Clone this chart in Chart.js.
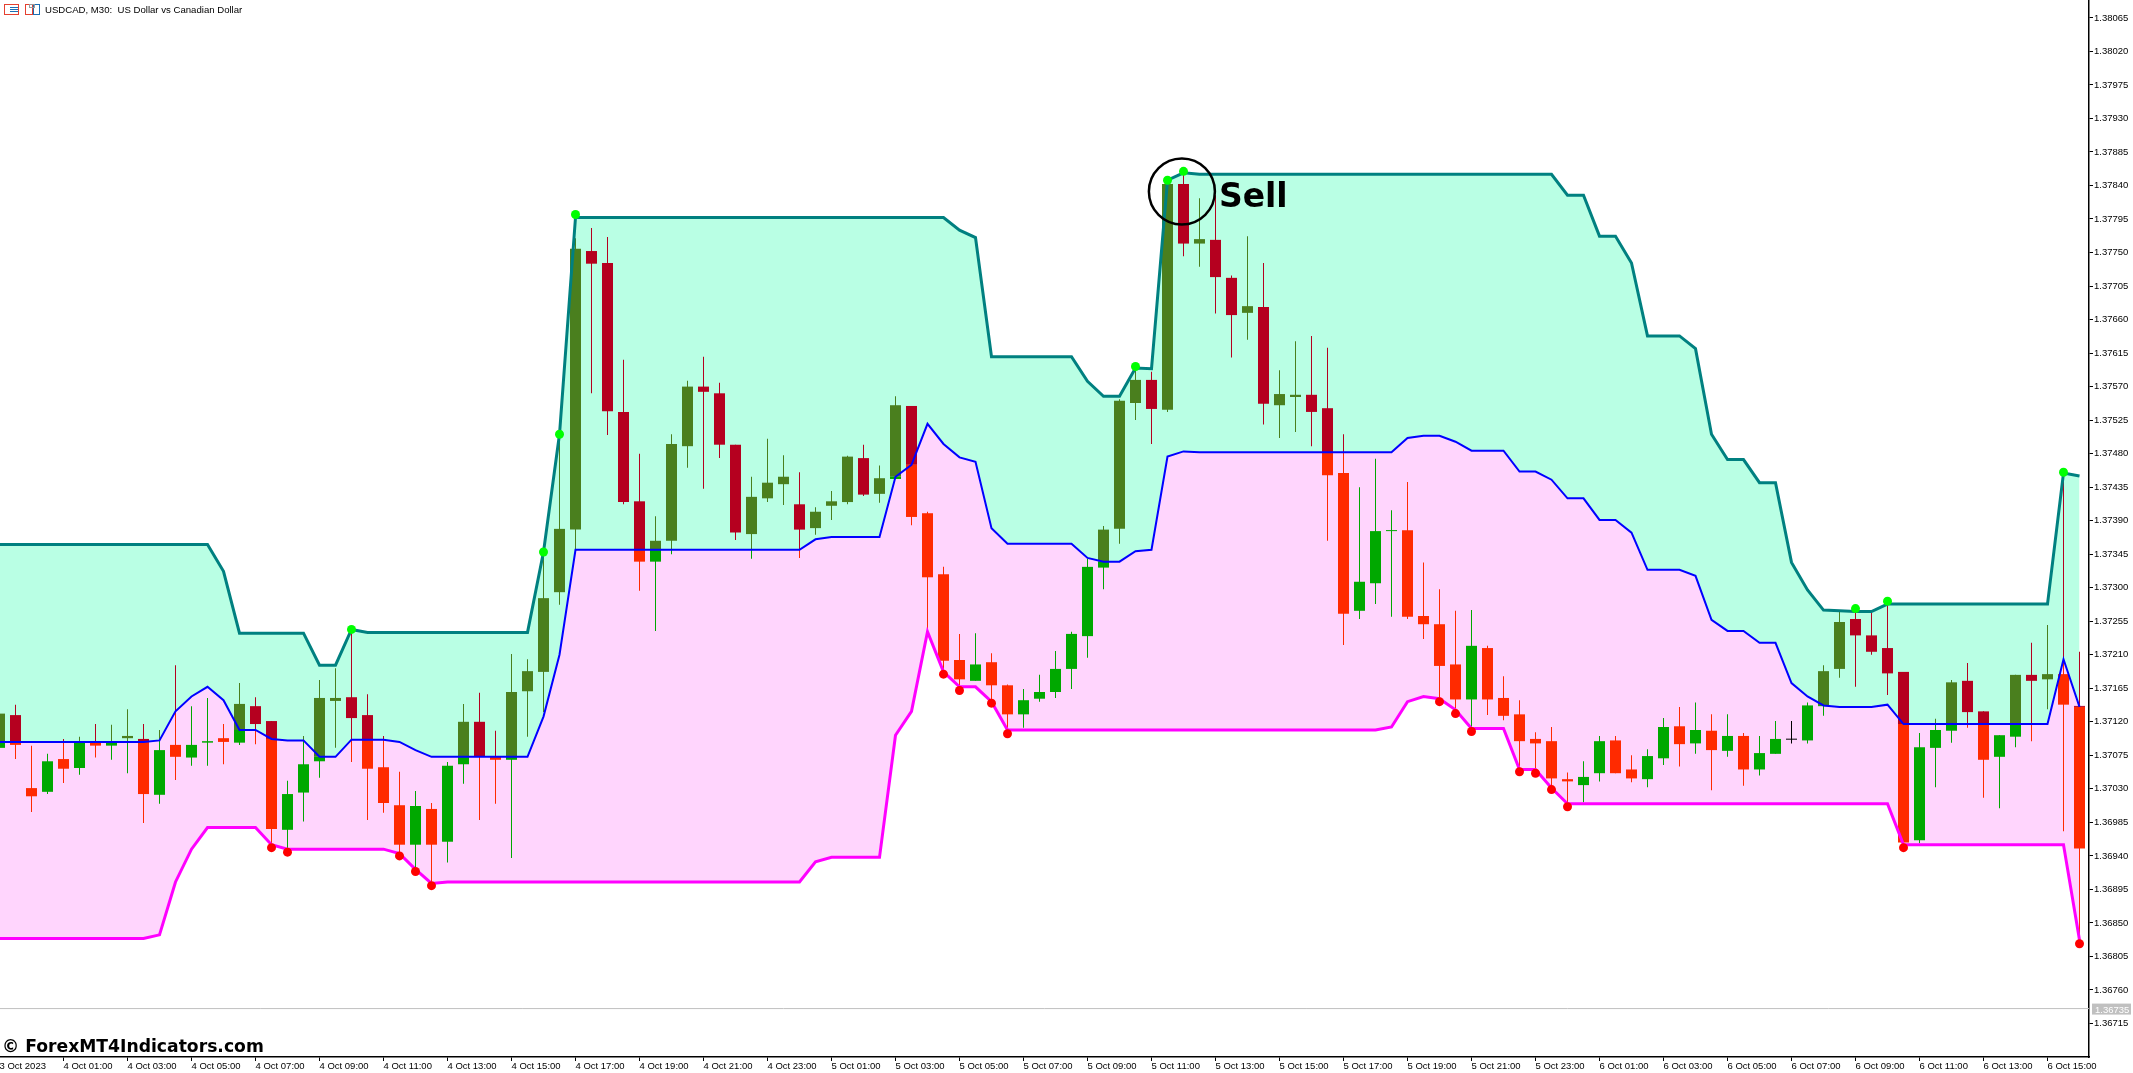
<!DOCTYPE html>
<html>
<head>
<meta charset="utf-8">
<title>USDCAD, M30</title>
<script src="https://cdn.jsdelivr.net/npm/chart.js@4/dist/chart.umd.js"></script>
<style>
  html, body { margin: 0; padding: 0; background: #fff; overflow: hidden; }
  canvas { display: block; }
</style>
</head>
<body>
<canvas id="chart" width="2133" height="1073"></canvas>
<script>
const opens = [
  1.37085,1.37129,1.37031,1.37026,1.37070,1.37058,1.37092,1.37088,1.37098,1.37097,1.37022,1.37089,1.37072,1.37092,1.37098,1.37092,
  1.37141,1.37121,1.36975,1.37025,1.37067,1.37148,1.37153,1.37129,1.37059,1.37008,1.36955,1.37003,1.36959,1.37063,1.37120,1.37073,
  1.37069,1.37161,1.37187,1.37294,1.37378,1.37752,1.37736,1.37536,1.37416,1.37335,1.37363,1.37490,1.37570,1.37561,1.37492,1.37372,
  1.37420,1.37439,1.37412,1.37380,1.37410,1.37415,1.37474,1.37426,1.37446,1.37544,1.37400,1.37318,1.37203,1.37175,1.37200,1.37169,
  1.37130,1.37151,1.37160,1.37191,1.37235,1.37327,1.37379,1.37548,1.37579,1.37539,1.37842,1.37762,1.37767,1.37716,1.37669,1.37677,
  1.37545,1.37556,1.37559,1.37541,1.37454,1.37269,1.37306,1.37376,1.37377,1.37262,1.37251,1.37197,1.37150,1.37219,1.37152,1.37130,
  1.37097,1.37094,1.37043,1.37035,1.37051,1.37095,1.37056,1.37043,1.37071,1.37114,1.37091,1.37108,1.37081,1.37101,1.37056,1.37077,
  1.37096,1.37095,1.37141,1.37191,1.37258,1.37236,1.37219,1.37187,1.36961,1.37085,1.37108,1.37175,1.37134,1.37073,1.37100,1.37183,
  1.37177,1.37184,1.37141
];
const highs = [
  1.37135,1.37143,1.37088,1.37077,1.37097,1.37100,1.37117,1.37116,1.37137,1.37117,1.37109,1.37196,1.37141,1.37152,1.37117,1.37172,
  1.37153,1.37121,1.37041,1.37101,1.37176,1.37192,1.37239,1.37157,1.37101,1.37053,1.37027,1.37011,1.37066,1.37144,1.37159,1.37108,
  1.37211,1.37204,1.37348,1.37506,1.37769,1.37783,1.37771,1.37606,1.37480,1.37396,1.37506,1.37578,1.37610,1.37575,1.37492,1.37449,
  1.37500,1.37478,1.37455,1.37408,1.37430,1.37477,1.37492,1.37464,1.37557,1.37544,1.37402,1.37328,1.37238,1.37239,1.37212,1.37170,
  1.37164,1.37183,1.37215,1.37241,1.37339,1.37383,1.37553,1.37597,1.37590,1.37847,1.37859,1.37823,1.37827,1.37719,1.37772,1.37736,
  1.37592,1.37631,1.37638,1.37622,1.37506,1.37435,1.37473,1.37404,1.37442,1.37334,1.37298,1.37269,1.37270,1.37222,1.37181,1.37149,
  1.37106,1.37113,1.37052,1.37067,1.37101,1.37101,1.37075,1.37083,1.37125,1.37140,1.37146,1.37130,1.37130,1.37105,1.37101,1.37121,
  1.37121,1.37146,1.37196,1.37270,1.37272,1.37268,1.37281,1.37187,1.37105,1.37124,1.37176,1.37199,1.37134,1.37102,1.37183,1.37226,
  1.37250,1.37455,1.37214
];
const lows = [
  1.37080,1.37070,1.36999,1.37023,1.37038,1.37049,1.37072,1.37069,1.37051,1.36984,1.37010,1.37042,1.37061,1.37061,1.37063,1.37089,
  1.37090,1.36952,1.36948,1.36986,1.37045,1.37085,1.37066,1.36988,1.36998,1.36943,1.36921,1.36903,1.36931,1.37037,1.36988,1.37010,
  1.36937,1.37100,1.37133,1.37277,1.37351,1.37561,1.37505,1.37412,1.37296,1.37242,1.37345,1.37461,1.37433,1.37474,1.37364,1.37339,
  1.37415,1.37411,1.37340,1.37371,1.37391,1.37412,1.37423,1.37414,1.37446,1.37384,1.37241,1.37185,1.37163,1.37175,1.37145,1.37109,
  1.37112,1.37147,1.37152,1.37164,1.37206,1.37298,1.37359,1.37525,1.37493,1.37536,1.37745,1.37731,1.37668,1.37609,1.37633,1.37519,
  1.37501,1.37509,1.37490,1.37363,1.37223,1.37258,1.37278,1.37261,1.37258,1.37231,1.37147,1.37131,1.37109,1.37129,1.37122,1.37055,
  1.37053,1.37031,1.37004,1.37012,1.37040,1.37051,1.37039,1.37032,1.37062,1.37060,1.37077,1.37028,1.37073,1.37034,1.37048,1.37077,
  1.37091,1.37091,1.37128,1.37179,1.37167,1.37210,1.37156,1.36952,1.36957,1.37032,1.37092,1.37112,1.37018,1.37004,1.37086,1.37094,
  1.37137,1.36973,1.36822
];
const closes = [
  1.37131,1.37089,1.37020,1.37067,1.37057,1.37092,1.37088,1.37092,1.37101,1.37023,1.37082,1.37073,1.37089,1.37094,1.37093,1.37144,
  1.37117,1.36976,1.37023,1.37063,1.37152,1.37152,1.37125,1.37057,1.37011,1.36955,1.37007,1.36955,1.37061,1.37120,1.37073,1.37069,
  1.37160,1.37188,1.37286,1.37379,1.37755,1.37735,1.37537,1.37415,1.37335,1.37363,1.37493,1.37570,1.37563,1.37492,1.37374,1.37422,
  1.37441,1.37449,1.37378,1.37402,1.37416,1.37476,1.37425,1.37447,1.37545,1.37395,1.37314,1.37202,1.37177,1.37197,1.37169,1.37130,
  1.37149,1.37160,1.37191,1.37238,1.37328,1.37378,1.37551,1.37579,1.37540,1.37842,1.37762,1.37768,1.37717,1.37666,1.37678,1.37547,
  1.37560,1.37559,1.37536,1.37451,1.37265,1.37308,1.37376,1.37377,1.37261,1.37251,1.37195,1.37150,1.37222,1.37150,1.37128,1.37094,
  1.37091,1.37044,1.37040,1.37046,1.37094,1.37051,1.37044,1.37074,1.37113,1.37090,1.37109,1.37082,1.37101,1.37056,1.37078,1.37097,
  1.37096,1.37142,1.37188,1.37254,1.37236,1.37214,1.37185,1.36958,1.37086,1.37109,1.37173,1.37133,1.37069,1.37102,1.37183,1.37175,
  1.37184,1.37143,1.36950
];

const upperBand = [
  1.37358,1.37358,1.37358,1.37358,1.37358,1.37358,1.37358,1.37358,1.37358,1.37358,1.37358,1.37358,1.37358,1.37358,1.37322,1.37239,
  1.37239,1.37239,1.37239,1.37239,1.37196,1.37196,1.37244,1.37240,1.37240,1.37240,1.37240,1.37240,1.37240,1.37240,1.37240,1.37240,
  1.37240,1.37240,1.37348,1.37506,1.37797,1.37797,1.37797,1.37797,1.37797,1.37797,1.37797,1.37797,1.37797,1.37797,1.37797,1.37797,
  1.37797,1.37797,1.37797,1.37797,1.37797,1.37797,1.37797,1.37797,1.37797,1.37797,1.37797,1.37797,1.37780,1.37770,1.37610,1.37610,
  1.37610,1.37610,1.37610,1.37610,1.37577,1.37557,1.37557,1.37595,1.37594,1.37847,1.37857,1.37855,1.37855,1.37855,1.37855,1.37855,
  1.37855,1.37855,1.37855,1.37855,1.37855,1.37855,1.37855,1.37855,1.37855,1.37855,1.37855,1.37855,1.37855,1.37855,1.37855,1.37855,
  1.37855,1.37855,1.37827,1.37827,1.37772,1.37772,1.37736,1.37638,1.37638,1.37638,1.37621,1.37506,1.37472,1.37472,1.37441,1.37441,
  1.37334,1.37297,1.37270,1.37269,1.37268,1.37268,1.37278,1.37278,1.37278,1.37278,1.37278,1.37278,1.37278,1.37278,1.37278,1.37278,
  1.37278,1.37454,1.37450
];
const midBand = [
  1.37093,1.37093,1.37093,1.37093,1.37093,1.37093,1.37093,1.37093,1.37093,1.37093,1.37095,1.37134,1.37154,1.37167,1.37149,1.37109,
  1.37109,1.37097,1.37095,1.37095,1.37073,1.37073,1.37096,1.37096,1.37096,1.37093,1.37082,1.37073,1.37073,1.37073,1.37073,1.37073,
  1.37073,1.37073,1.37127,1.37210,1.37351,1.37351,1.37351,1.37351,1.37351,1.37351,1.37351,1.37351,1.37351,1.37351,1.37351,1.37351,
  1.37351,1.37351,1.37351,1.37365,1.37368,1.37368,1.37368,1.37368,1.37449,1.37465,1.37520,1.37493,1.37475,1.37469,1.37380,1.37359,
  1.37359,1.37359,1.37359,1.37359,1.37340,1.37335,1.37335,1.37349,1.37351,1.37476,1.37483,1.37482,1.37482,1.37482,1.37482,1.37482,
  1.37482,1.37482,1.37482,1.37482,1.37482,1.37482,1.37482,1.37482,1.37501,1.37504,1.37504,1.37496,1.37484,1.37484,1.37484,1.37456,
  1.37456,1.37445,1.37420,1.37420,1.37391,1.37391,1.37374,1.37324,1.37324,1.37324,1.37316,1.37257,1.37242,1.37242,1.37226,1.37226,
  1.37172,1.37154,1.37142,1.37140,1.37140,1.37140,1.37143,1.37117,1.37117,1.37117,1.37117,1.37117,1.37117,1.37117,1.37117,1.37117,
  1.37117,1.37204,1.37140
];
const lowerBand = [
  1.36829,1.36829,1.36829,1.36829,1.36829,1.36829,1.36829,1.36829,1.36829,1.36829,1.36834,1.36905,1.36949,1.36978,1.36978,1.36978,
  1.36978,1.36955,1.36949,1.36949,1.36949,1.36949,1.36949,1.36949,1.36949,1.36943,1.36922,1.36903,1.36905,1.36905,1.36905,1.36905,
  1.36905,1.36905,1.36905,1.36905,1.36905,1.36905,1.36905,1.36905,1.36905,1.36905,1.36905,1.36905,1.36905,1.36905,1.36905,1.36905,
  1.36905,1.36905,1.36905,1.36932,1.36938,1.36938,1.36938,1.36938,1.37102,1.37134,1.37241,1.37187,1.37167,1.37167,1.37147,1.37109,
  1.37109,1.37109,1.37109,1.37109,1.37109,1.37109,1.37109,1.37109,1.37109,1.37109,1.37109,1.37109,1.37109,1.37109,1.37109,1.37109,
  1.37109,1.37109,1.37109,1.37109,1.37109,1.37109,1.37109,1.37113,1.37147,1.37154,1.37151,1.37136,1.37111,1.37111,1.37111,1.37056,
  1.37056,1.37031,1.37010,1.37010,1.37010,1.37010,1.37010,1.37010,1.37010,1.37010,1.37010,1.37010,1.37010,1.37010,1.37010,1.37010,
  1.37010,1.37010,1.37010,1.37010,1.37010,1.37010,1.37010,1.36955,1.36955,1.36955,1.36955,1.36955,1.36955,1.36955,1.36955,1.36955,
  1.36955,1.36955,1.36827
];

const highDotBars = [22,34,35,36,71,73,74,116,118,129];
const highDotPrices = [1.37244,1.37348,1.37506,1.37801,1.37597,1.37847,1.37859,1.37272,1.37282,1.37455];
const lowDotBars = [17,18,25,26,27,59,60,62,63,90,91,92,95,96,97,98,119,130];
const lowDotPrices = [1.36951,1.36945,1.36940,1.36919,1.36900,1.37184,1.37162,1.37145,1.37104,1.37147,1.37131,1.37107,1.37053,1.37051,1.37029,1.37006,1.36951,1.36822];

const xTickLabels = [
  '3 Oct 2023','4 Oct 01:00','4 Oct 03:00','4 Oct 05:00','4 Oct 07:00','4 Oct 09:00','4 Oct 11:00','4 Oct 13:00','4 Oct 15:00',
  '4 Oct 17:00','4 Oct 19:00','4 Oct 21:00','4 Oct 23:00','5 Oct 01:00','5 Oct 03:00','5 Oct 05:00','5 Oct 07:00','5 Oct 09:00',
  '5 Oct 11:00','5 Oct 13:00','5 Oct 15:00','5 Oct 17:00','5 Oct 19:00','5 Oct 21:00','5 Oct 23:00','6 Oct 01:00','6 Oct 03:00',
  '6 Oct 05:00','6 Oct 07:00','6 Oct 09:00','6 Oct 11:00','6 Oct 13:00','6 Oct 15:00'
];
const yTickValues = [
  1.38065,1.38020,1.37975,1.37930,1.37885,1.37840,1.37795,1.37750,1.37705,1.37660,1.37615,1.37570,1.37525,1.37480,1.37435,1.37390,
  1.37345,1.37300,1.37255,1.37210,1.37165,1.37120,1.37075,1.37030,1.36985,1.36940,1.36895,1.36850,1.36805,1.36760,1.36715
];
const lastPrice = 1.36735;
const sellMark = { bar: 73.9, price: 1.37832 };

const palette = {
  up: { outside: '#008000', high: '#4A7F1E', low: '#00A800' },
  down: { outside: '#FF0000', high: '#B5001F', low: '#FF2A00' }
};

// candle parts change colour depending on which band they sit in
function splitByBand(i, lo, hi, side, points, colors) {
  const zones = [
    [upperBand[i], Infinity, 'outside'],
    [midBand[i], upperBand[i], 'high'],
    [lowerBand[i], midBand[i], 'low'],
    [-Infinity, lowerBand[i], 'outside']
  ];
  zones.forEach(z => {
    const a = Math.max(lo, z[0]);
    const b = Math.min(hi, z[1]);
    if (b > a || (lo === hi && lo >= z[0] && lo < z[1])) {
      points.push({ x: i, y: [a, b] });
      colors.push(side ? palette[side][z[2]] : '#000000');
    }
  });
}

const bodyPoints = [], bodyColors = [], wickPoints = [], wickColors = [];
opens.forEach((o, i) => {
  const c = closes[i];
  const side = c > o ? 'up' : c < o ? 'down' : null;
  splitByBand(i, Math.min(o, c), Math.max(o, c), side, bodyPoints, bodyColors);
  splitByBand(i, lows[i], highs[i], side, wickPoints, wickColors);
});

const toLine = arr => arr.map((y, i) => ({ x: i, y: y }));
const toDots = (bars, prices) => bars.map((b, i) => ({ x: b, y: prices[i] }));

const hidden = { pointRadius: 0, pointHoverRadius: 0, tension: 0 };

const overlay = {
  id: 'overlay',
  afterDraw(chart) {
    const ctx = chart.ctx;
    const x = chart.scales.x, y = chart.scales.y;
    ctx.save();
    ctx.textBaseline = 'alphabetic';
    ctx.textAlign = 'left';

    ctx.fillStyle = '#000';
    ctx.font = 'bold 33px "DejaVu Sans"';
    ctx.fillText('Sell', x.getPixelForValue(sellMark.bar) + 37, y.getPixelForValue(sellMark.price) + 16);

    ctx.font = 'bold 17.2px "DejaVu Sans"';
    ctx.fillText('© ForexMT4Indicators.com', 2, 1052);

    ctx.font = '9.6px "Liberation Sans"';
    ctx.fillText('USDCAD, M30:  US Dollar vs Canadian Dollar', 45, 13);

    // little window icons in the corner
    ctx.lineWidth = 1;
    ctx.strokeStyle = '#E5402F';
    ctx.strokeRect(4.5, 4.5, 14, 10);
    ctx.strokeRect(25.5, 4.5, 7, 10);
    ctx.strokeStyle = '#1B6FB5';
    ctx.beginPath();
    [7.5, 9.5, 11.5].forEach(v => { ctx.moveTo(10, v); ctx.lineTo(18, v); });
    ctx.stroke();
    ctx.strokeRect(33.5, 4.5, 6, 10);
    ctx.strokeStyle = '#999';
    ctx.strokeRect(29.5, 4.5, 5, 3);

    // current price tag
    const py = y.getPixelForValue(lastPrice);
    ctx.fillStyle = '#C0C0C0';
    ctx.fillRect(2092, py - 5, 39, 11);
    ctx.fillStyle = '#fff';
    ctx.font = '9.5px "Liberation Sans"';
    ctx.fillText(lastPrice.toFixed(5), 2095, py + 4);
    ctx.restore();
  }
};

new Chart(document.getElementById('chart'), {
  type: 'line',
  data: {
    datasets: [
      { data: toLine(upperBand), fill: '+1', backgroundColor: '#B9FFE4', borderWidth: 0, order: 30, ...hidden },
      { data: toLine(midBand), fill: '+1', backgroundColor: '#FFD5FD', borderWidth: 0, order: 30, ...hidden },
      { data: toLine(lowerBand), fill: false, borderWidth: 0, order: 30, ...hidden },
      { data: [{ x: 0, y: lastPrice }, { x: 131, y: lastPrice }], borderColor: '#C0C0C0', borderWidth: 1, order: 25, ...hidden },
      { type: 'bar', data: wickPoints, backgroundColor: wickColors, barThickness: 1, order: 21 },
      { type: 'bar', data: bodyPoints, backgroundColor: bodyColors, barThickness: 11, minBarLength: 1, order: 20 },
      { data: toLine(upperBand), borderColor: '#008080', borderWidth: 3, order: 10, ...hidden },
      { data: toLine(midBand), borderColor: '#0000FF', borderWidth: 2, order: 10, ...hidden },
      { data: toLine(lowerBand), borderColor: '#FF00FF', borderWidth: 3, order: 10, ...hidden },
      { data: toDots(highDotBars, highDotPrices), showLine: false, pointRadius: 4.5, pointBackgroundColor: '#00FF00', pointBorderWidth: 0, order: 5 },
      { data: toDots(lowDotBars, lowDotPrices), showLine: false, pointRadius: 4.5, pointBackgroundColor: '#FF0000', pointBorderWidth: 0, order: 5 },
      { data: [{ x: sellMark.bar, y: sellMark.price }], showLine: false, pointRadius: 33, pointBackgroundColor: 'rgba(0,0,0,0)', pointBorderColor: '#000', pointBorderWidth: 2.5, order: 1, clip: false }
    ]
  },
  options: {
    responsive: false,
    animation: false,
    events: [],
    layout: { padding: 0, autoPadding: false },
    datasets: { bar: { grouped: false, inflateAmount: 0, borderWidth: 0 } },
    plugins: { legend: { display: false }, title: { display: false }, tooltip: { enabled: false } },
    scales: {
      x: {
        type: 'linear',
        offset: false,
        min: 0.03125,
        max: 130.59375,
        afterBuildTicks(scale) {
          scale.ticks = xTickLabels.map((t, i) => ({ value: i * 4 }));
        },
        afterFit(scale) {
          scale.height = 16;
          scale.paddingLeft = 0;
          scale.paddingRight = 0;
        },
        border: { color: '#000', width: 1.5 },
        grid: { offset: false, drawOnChartArea: false, color: '#000', tickLength: 4 },
        ticks: {
          autoSkip: false,
          maxRotation: 0,
          minRotation: 0,
          align: 'start',
          padding: 0,
          color: '#000',
          font: { family: '"Liberation Sans"', size: 9.5 },
          callback: (v) => xTickLabels[Math.round(v / 4)]
        }
      },
      y: {
        position: 'right',
        min: 1.36670,
        max: 1.38089,
        afterBuildTicks(scale) {
          scale.ticks = yTickValues.map(v => ({ value: v }));
        },
        afterFit(scale) {
          scale.width = 44;
          scale.paddingTop = 0;
          scale.paddingBottom = 0;
        },
        border: { color: '#000', width: 1.5 },
        grid: { drawOnChartArea: false, color: '#000', tickLength: 4 },
        ticks: {
          autoSkip: false,
          padding: 1,
          color: '#000',
          font: { family: '"Liberation Sans"', size: 9.5 },
          callback: v => v.toFixed(5)
        }
      }
    }
  },
  plugins: [overlay]
});
</script>
</body>
</html>
